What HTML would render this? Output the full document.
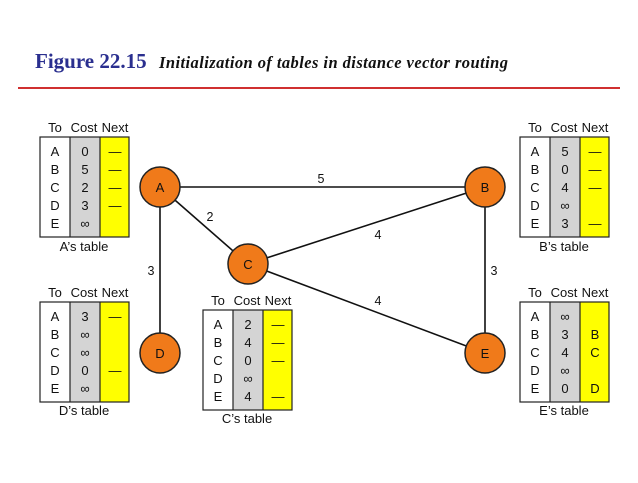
<!DOCTYPE html>
<html><head><style>html,body{margin:0;padding:0;background:#fff;}</style></head><body>
<svg width="638" height="478" viewBox="0 0 638 478" xmlns="http://www.w3.org/2000/svg" font-family="Liberation Sans, sans-serif">
<text x="35" y="68" font-family="Liberation Serif, serif" font-weight="bold" font-size="21" fill="#2a2f8f">Figure 22.15</text>
<text x="159" y="68" font-family="Liberation Serif, serif" font-weight="bold" font-style="italic" font-size="16.5" fill="#111" textLength="349">Initialization of tables in distance vector routing</text>
<line x1="18" y1="88" x2="620" y2="88" stroke="#d03030" stroke-width="2"/>
<g stroke="#111" stroke-width="1.6">
<line x1="160" y1="187" x2="485" y2="187"/>
<line x1="160" y1="187" x2="248" y2="264"/>
<line x1="160" y1="187" x2="160" y2="353"/>
<line x1="248" y1="264" x2="485" y2="187"/>
<line x1="248" y1="264" x2="485" y2="353"/>
<line x1="485" y1="187" x2="485" y2="353"/>
</g>
<g font-size="12.5" fill="#111" text-anchor="middle">
<text x="321" y="183">5</text><text x="210" y="221">2</text><text x="378" y="239">4</text>
<text x="151" y="275">3</text><text x="494" y="275">3</text><text x="378" y="305">4</text>
</g>
<g fill="#f07a1a" stroke="#222" stroke-width="1.5">
<circle cx="160" cy="187" r="20"/><circle cx="485" cy="187" r="20"/><circle cx="248" cy="264" r="20"/>
<circle cx="160" cy="353" r="20"/><circle cx="485" cy="353" r="20"/>
</g>
<g font-size="13" fill="#111" text-anchor="middle">
<text x="160" y="192">A</text><text x="485" y="192">B</text><text x="248" y="269">C</text>
<text x="160" y="358">D</text><text x="485" y="358">E</text>
</g>
<defs>
<g id="tbl">
<rect x="0" y="0" width="30" height="100" fill="#fff"/>
<rect x="30" y="0" width="30" height="100" fill="#d4d4d4"/>
<rect x="60" y="0" width="29" height="100" fill="#ffff00"/>
<rect x="0" y="0" width="89" height="100" fill="none" stroke="#222" stroke-width="1.2"/>
<line x1="30" y1="0" x2="30" y2="100" stroke="#222" stroke-width="1.2"/>
<line x1="60" y1="0" x2="60" y2="100" stroke="#222" stroke-width="1.2"/>
<g font-size="13" fill="#111" text-anchor="middle">
<text x="15" y="-5">To</text><text x="44" y="-5">Cost</text><text x="75" y="-5">Next</text>
<text x="15" y="19">A</text><text x="15" y="37">B</text><text x="15" y="55">C</text><text x="15" y="73">D</text><text x="15" y="91">E</text>
</g>
</g>
</defs>
<g font-size="13" fill="#111" text-anchor="middle">
<g transform="translate(40,137)"><use href="#tbl"/>
<text x="45" y="19">0</text><text x="45" y="37">5</text><text x="45" y="55">2</text><text x="45" y="73">3</text><text x="45" y="91">∞</text>
<text x="75" y="19">—</text><text x="75" y="37">—</text><text x="75" y="55">—</text><text x="75" y="73">—</text>
<text x="44" y="114">A’s table</text></g>
<g transform="translate(520,137)"><use href="#tbl"/>
<text x="45" y="19">5</text><text x="45" y="37">0</text><text x="45" y="55">4</text><text x="45" y="73">∞</text><text x="45" y="91">3</text>
<text x="75" y="19">—</text><text x="75" y="37">—</text><text x="75" y="55">—</text><text x="75" y="91">—</text>
<text x="44" y="114">B’s table</text></g>
<g transform="translate(40,302)"><use href="#tbl"/>
<text x="45" y="19">3</text><text x="45" y="37">∞</text><text x="45" y="55">∞</text><text x="45" y="73">0</text><text x="45" y="91">∞</text>
<text x="75" y="19">—</text><text x="75" y="73">—</text>
<text x="44" y="113">D’s table</text></g>
<g transform="translate(520,302)"><use href="#tbl"/>
<text x="45" y="19">∞</text><text x="45" y="37">3</text><text x="45" y="55">4</text><text x="45" y="73">∞</text><text x="45" y="91">0</text>
<text x="75" y="37">B</text><text x="75" y="55">C</text><text x="75" y="91">D</text>
<text x="44" y="113">E’s table</text></g>
<g transform="translate(203,310)"><use href="#tbl"/>
<text x="45" y="19">2</text><text x="45" y="37">4</text><text x="45" y="55">0</text><text x="45" y="73">∞</text><text x="45" y="91">4</text>
<text x="75" y="19">—</text><text x="75" y="37">—</text><text x="75" y="55">—</text><text x="75" y="91">—</text>
<text x="44" y="113">C’s table</text></g>
</g>
</svg>
</body></html>
